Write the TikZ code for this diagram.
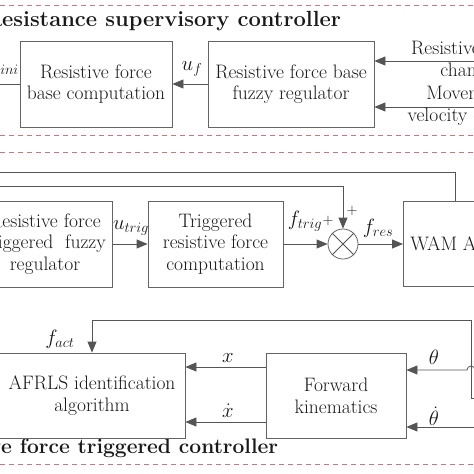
\documentclass[tikz,border=0pt]{standalone}
\usepackage{fontspec}
\usetikzlibrary{arrows.meta,calc}
\definecolor{sepred}{RGB}{200,120,130}
\definecolor{boxgray}{RGB}{100,100,100}
\definecolor{linegray}{RGB}{85,85,85}
\definecolor{txt}{RGB}{25,25,25}
\newcommand\bxfont{\fontsize{19.5}{21.7}\selectfont}
\newcommand\inlabfont{\fontsize{19.5}{22}\selectfont}
\newcommand\mlfont{\fontsize{20}{24}\selectfont}
\newcommand\plfont{\fontsize{14}{16}\selectfont}
\newcommand\tlfont{\fontsize{21.9}{25}\selectfont\bfseries}
\newcommand\tlbfont{\fontsize{21}{25}\selectfont\bfseries}
\tikzset{
  blk/.style={draw=boxgray, line width=0.8pt, align=center, font=\bxfont, text=txt, inner sep=0pt, minimum height=86pt},
  conn/.style={draw=linegray, line width=0.8pt},
  arr/.style={conn, -{Triangle[length=11pt,width=9pt]}},
  sepline/.style={draw=sepred, dash pattern=on 5pt off 4pt, line width=0.8pt},
  lab/.style={font=\mlfont, text=txt, inner sep=0pt},
  inlab/.style={font=\inlabfont, text=txt, inner sep=0pt, align=center},
  plus/.style={font=\plfont, text=txt, inner sep=0pt},
  ttl/.style={text=txt, inner sep=0pt},
}
\begin{document}
\begin{tikzpicture}[x=1pt,y=-1pt]
\useasboundingbox (0,0) rectangle (474,474);
\clip (0,0) rectangle (474,474);
\fill[white] (0,0) rectangle (474,474);

% separators
\draw[sepline] (0,5) -- (474,5);
\draw[sepline] (0,135) -- (474,135);
\draw[sepline] (0,152) -- (474,152);
\draw[sepline] (0,464) -- (474,464);

% titles
\node[ttl, font=\tlfont, anchor=base west] (t1) at (2,26) {\llap{R}esistance supervisory controller};
\node[ttl, font=\tlbfont, anchor=base west] (t2) at (1,453) {\llap{Resistiv}e force triggered controller};

% top section
\node[blk, minimum width=152pt] (A) at (96,84) {Resistive force\\base computation};
\node[blk, minimum width=166pt] (B) at (291,84) {Resistive force base\\fuzzy regulator};
\draw[arr] (B.west) -- (A.east);
\node[lab] (uf) at (192,69) {$u_f$};
\coordinate (fm) at (-10,84);
\draw[conn] (A.west) -- (fm);
\node[lab, anchor=south east] (fmini) at (19,76) {$f_{mini}$};
\coordinate (i1) at (500,61);
\coordinate (i2) at (500,107);
\draw[arr] (i1) -- (B.east |- i1);
\draw[arr] (i2) -- (B.east |- i2);
\node[inlab] (l1) at (467,61) {Resistive force\\change};
\node[inlab] (l2) at (467,106) {Movement\\velocity change};

% middle section
\node[blk, minimum width=134pt] (C) at (45,244) {Resistive force\\triggered~~fuzzy\\regulator};
\node[blk, minimum width=135pt] (D) at (215.5,244) {Triggered\\resistive force\\computation};
\node[draw=boxgray, line width=0.8pt, circle, minimum size=30pt, inner sep=0pt] (S) at (343,244) {};
\draw[conn] (S.north east) -- (S.south west) (S.north west) -- (S.south east);
\node[blk, minimum height=85pt, inner xsep=7pt, anchor=west] (W) at (403,244) {WAM Arm};
\draw[arr] (C.east) -- (D.west);
\draw[arr] (D.east) -- (S.west);
\draw[arr] (S.east) -- (W.west);
\coordinate (fb1) at (-10,172);
\coordinate (fb2) at (-10,186);
\draw[conn] ($(W.north west)+(52,0)$) |- (fb1);
\draw[arr] (fb2) -| (S.north);
\node[lab] (ut) at (131,228) {$u_{trig}$};
\node[lab] (ft) at (305,221) {$f_{trig}$};
\node[plus] (p1) at (328,221) {$+$};
\node[plus] (p2) at (352,211) {$+$};
\node[lab] (fr) at (378,228) {$f_{res}$};

% bottom section
\node[blk, minimum width=186pt, minimum height=85pt] (E) at (92,395.5) {AFRLS identification\\algorithm};
\node[blk, minimum width=140pt, minimum height=85pt] (F) at (336,395.5) {Forward\\kinematics};
\coordinate (rb) at (500,398);
\coordinate (c1) at (471,320);
\draw[arr] (rb) -| (c1) -| (E.north);
\node[lab] (fa) at (60,339) {$f_{act}$};
\coordinate (th) at (500,370);
\coordinate (thd) at (500,427);
\draw[arr] (th) -- (475,370) arc (0:-180:4) -- (F.east |- th);
\draw[arr] (thd) -- (F.east |- thd);
\draw[arr] ([yshift=28.5pt]F.west) coordinate (xs) -- (xs -| E.east);
\draw[arr] ([yshift=-26.5pt]F.west) coordinate (xds) -- (xds -| E.east);
\node[lab] (lx) at (228,358) {$x$};
\node[lab] (lxd) at (228,411) {$\dot{x}$};
\node[lab] (lth) at (434,357) {$\theta$};
\node[lab] (lthd) at (434,416) {$\dot{\theta}$};
\end{tikzpicture}
\end{document}
